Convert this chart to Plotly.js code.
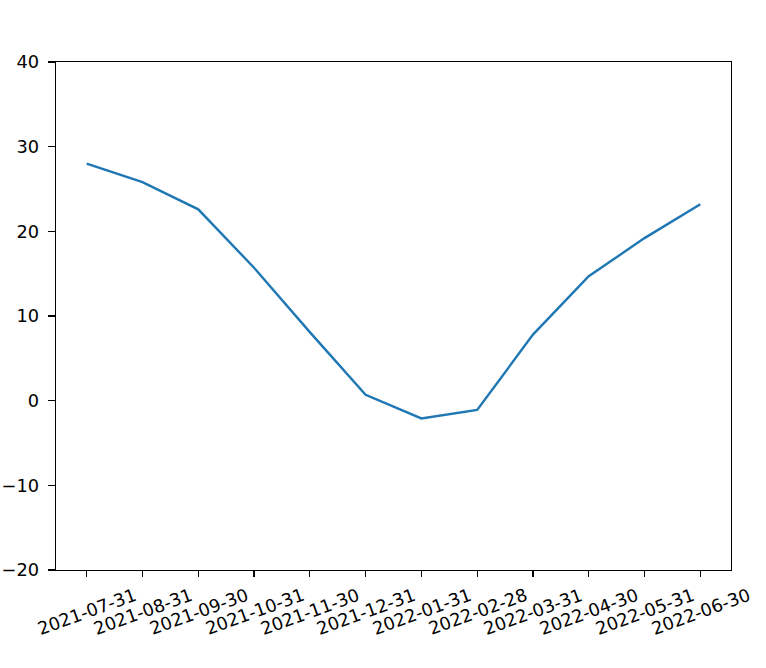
<!DOCTYPE html>
<html>
<head>
<meta charset="utf-8">
<script src="https://cdn.plot.ly/plotly-3.0.1.min.js"></script>
<style>html,body{margin:0;padding:0;background:#fff;}#chart{width:766px;height:668px;}</style>
</head>
<body>
<div id="chart"></div>
<script>
const dates = ["2021-07-31","2021-08-31","2021-09-30","2021-10-31","2021-11-30","2021-12-31","2022-01-31","2022-02-28","2022-03-31","2022-04-30","2022-05-31","2022-06-30"];
const values = [28.0, 25.8, 22.6, 15.7, 8.1, 0.7, -2.1, -1.1, 7.8, 14.7, 19.2, 23.2];
const yTicks = [-20, -10, 0, 10, 20, 30, 40];
const yTickText = ["\u221220", "\u221210", "0", "10", "20", "30", "40"];

const idx = dates.map((d, i) => i);
const font = {family: "DejaVu Sans", size: 17.8, color: "#000"};

const trace = {
  x: idx, y: values, type: "scatter", mode: "lines",
  line: {color: "#1f77b4", width: 2.4},
  hoverinfo: "skip"
};

const annotations = dates.map((d, i) => ({
  x: i, xref: "x", y: 0, yref: "paper",
  text: d, showarrow: false, textangle: -20,
  xanchor: "center", yanchor: "middle", yshift: -41,
  font: font
}));

const layout = {
  width: 766, height: 668,
  margin: {l: 56, r: 35, t: 62, b: 98, pad: 0},
  paper_bgcolor: "#fff", plot_bgcolor: "#fff",
  showlegend: false,
  font: font,
  xaxis: {
    range: [-0.55, 11.55], tickmode: "array", tickvals: idx, showticklabels: false,
    ticks: "outside", ticklen: 6, tickwidth: 1.1, tickcolor: "#000",
    showline: true, linecolor: "#000", linewidth: 1.3, mirror: true,
    showgrid: false, zeroline: false
  },
  yaxis: {
    range: [-20, 40], tickmode: "array", tickvals: yTicks, ticktext: yTickText,
    ticks: "outside", ticklen: 7, tickwidth: 1.1, tickcolor: "#000",
    ticklabelstandoff: 5,
    showline: true, linecolor: "#000", linewidth: 1.3, mirror: true,
    showgrid: false, zeroline: false, tickfont: font
  },
  annotations: annotations
};

Plotly.newPlot("chart", [trace], layout, {displayModeBar: false, staticPlot: true});
</script>
</body>
</html>
